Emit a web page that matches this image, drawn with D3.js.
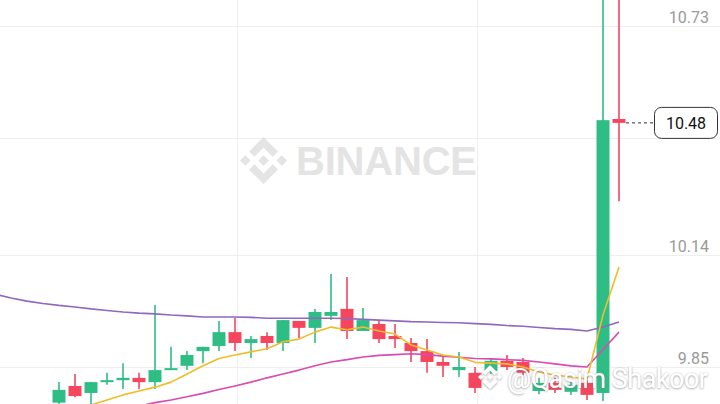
<!DOCTYPE html>
<html>
<head>
<meta charset="utf-8">
<script src="https://cdn.jsdelivr.net/npm/d3@7"></script>
<style>
html,body{margin:0;padding:0;background:#fff;}
svg{display:block;}
</style>
</head>
<body>
<svg id="chart" width="720" height="404"></svg>
<script>
// ---- data ----
const categories = ["1","2","3","4","5","6","7","8","9","10","11","12","13","14","15","16","17","18","19","20",
  "21","22","23","24","25","26","27","28","29","30","31","32","33","34","35","36","37","38","39","40"];
const openVals = [null,null,null,null,
  9.758,9.801,9.783,9.811,9.816,9.822,9.811,9.842,9.853,9.891,
  9.904,9.940,9.912,9.930,9.912,9.969,9.951,9.982,10.000,9.943,
  9.961,9.930,9.912,9.891,9.863,9.842,9.835,9.840,9.866,9.863,
  9.788,9.809,9.786,9.809,9.783,10.490];
const highVals = [null,null,null,null,
  9.811,9.832,9.811,9.835,9.860,9.835,10.010,9.902,9.891,9.902,
  9.969,9.977,9.930,9.940,9.971,9.969,10.000,10.090,10.082,10.002,
  9.969,9.961,9.925,9.922,9.878,9.889,9.850,9.873,9.881,9.873,
  9.822,9.822,9.816,9.816,10.850,10.850];
const lowVals = [null,null,null,null,
  9.740,9.772,9.740,9.804,9.793,9.793,9.793,9.842,9.842,9.860,
  9.891,9.891,9.873,9.894,9.891,9.925,9.912,9.971,9.922,9.943,
  9.912,9.899,9.863,9.835,9.824,9.824,9.783,9.832,9.842,9.822,
  9.780,9.783,9.778,9.765,9.762,10.278];
const closeVals = [null,null,null,null,
  9.791,9.775,9.811,9.816,9.822,9.811,9.842,9.847,9.881,9.902,
  9.940,9.912,9.922,9.912,9.971,9.951,9.992,9.992,9.943,9.971,
  9.922,9.922,9.891,9.863,9.853,9.850,9.796,9.866,9.850,9.835,
  9.809,9.791,9.804,9.778,10.487,10.480];
const ma7 = [null,null,null,null,null,null,
  9.752,9.765,9.778,9.788,9.798,9.811,9.832,9.853,9.872,9.881,
  9.889,9.897,9.915,9.922,9.940,9.953,9.946,9.953,9.943,9.935,
  9.907,9.894,9.881,9.876,9.862,9.860,9.858,9.850,9.837,9.829,
  9.824,9.819,9.984,10.108];
const ma25 = [null,null,null,null,null,null,null,null,
  9.739,9.749,9.758,9.765,9.773,9.782,9.792,9.801,9.811,9.822,
  9.832,9.842,9.853,9.863,9.869,9.876,9.880,9.882,9.884,9.882,
  9.878,9.875,9.872,9.871,9.869,9.867,9.863,9.858,9.853,9.850,
  9.895,9.940];
const ma99 = [10.038,10.028,10.020,10.014,10.009,10.005,10.000,9.996,9.992,9.989,
  9.987,9.984,9.982,9.979,9.979,9.979,9.978,9.976,9.976,9.976,
  9.976,9.976,9.975,9.973,9.971,9.969,9.967,9.966,9.965,9.964,
  9.962,9.960,9.957,9.955,9.952,9.949,9.947,9.943,9.953,9.966];
const yTicks = [9.85, 10.14, 10.44, 10.73];
const yTickLabels = ["9.85","10.14","10.44","10.73"];
const timeGridCats = ["16","31"];
const lastPrice = 10.48;
const lastPriceLabel = "10.48";

// ---- layout ----
const W = 720, H = 404;
const svg = d3.select("#chart");
const x = d3.scaleBand().domain(categories).range([-13, 627]).paddingInner(0.19).paddingOuter(0.095);
const y = d3.scaleLinear().domain([9.85, 10.73]).range([367, 26]);
const cx = c => x(c) + x.bandwidth() / 2;

const UP = "#2ebd85", DOWN = "#f6465d";

const defs = svg.append("defs");
defs.append("clipPath").attr("id","plot").append("rect").attr("x",0).attr("y",0).attr("width",W).attr("height",H);
const f = defs.append("filter").attr("id","wm").attr("x","-10%").attr("y","-30%").attr("width","120%").attr("height","160%");
f.append("feDropShadow").attr("dx",0).attr("dy",0.6).attr("stdDeviation",0.9).attr("flood-color","#6f6f6f").attr("flood-opacity",0.75);

// gridlines
svg.append("g").selectAll("line").data(yTicks).join("line")
  .attr("x1",0).attr("x2",W).attr("y1",d=>Math.round(y(d))+0.5).attr("y2",d=>Math.round(y(d))+0.5)
  .attr("stroke","#eeeeee").attr("stroke-width",1);
svg.append("g").selectAll("line").data(timeGridCats).join("line")
  .attr("x1",d=>Math.round(cx(d))+2.5).attr("x2",d=>Math.round(cx(d))+2.5).attr("y1",0).attr("y2",H)
  .attr("stroke","#eeeeee").attr("stroke-width",1);

// BINANCE watermark
const logoPaths = [
  "M38.73 53.2 L63.3 28.63 L87.89 53.22 L102.19 38.92 L63.3 0 L24.42 38.9 Z",
  "M0 63.31 L14.3 49.01 L28.6 63.31 L14.3 77.61 Z",
  "M38.73 73.41 L63.3 97.99 L87.88 73.39 L102.19 87.69 L63.3 126.61 L24.42 87.72 Z",
  "M97.99 63.31 L112.29 49 L126.59 63.3 L112.29 77.6 Z",
  "M77.81 63.3 L63.3 48.78 L48.79 63.28 L63.3 77.8 Z"
];
const bw = svg.append("g").attr("transform","translate(240,137) scale(0.372)");
bw.selectAll("path").data(logoPaths).join("path").attr("d",d=>d).attr("fill","#e4e4e4");
svg.append("text").attr("x",296).attr("y",175).text("BINANCE")
  .attr("font-family","Liberation Sans, Arial, sans-serif").attr("font-weight","bold")
  .attr("font-size",40).attr("fill","#e4e4e4").attr("textLength",181);

// candles
const candles = categories.map((c,i)=>({c, o:openVals[i], h:highVals[i], l:lowVals[i], cl:closeVals[i]})).filter(d=>d.o!==null);
const cg = svg.append("g").attr("clip-path","url(#plot)");
cg.selectAll("line.wick").data(candles).join("line").attr("class","wick")
  .attr("x1",d=>cx(d.c)).attr("x2",d=>cx(d.c)).attr("y1",d=>y(d.h)).attr("y2",d=>y(d.l))
  .attr("stroke",d=>d.cl>=d.o?UP:DOWN).attr("stroke-width",1.6);
cg.selectAll("rect.body").data(candles).join("rect").attr("class","body")
  .attr("x",d=>x(d.c)).attr("width",x.bandwidth())
  .attr("y",d=>y(Math.max(d.o,d.cl)))
  .attr("height",d=>Math.max(2, Math.abs(y(d.o)-y(d.cl))))
  .attr("fill",d=>d.cl>=d.o?UP:DOWN);

// MA lines
function maLine(arr, color){
  const pts = categories.map((c,i)=>({c, v:arr[i]}));
  const line = d3.line().defined(d=>d.v!==null).x(d=>cx(d.c)).y(d=>y(d.v));
  cg.append("path").datum(pts).attr("d",line).attr("fill","none").attr("stroke",color).attr("stroke-width",1.6).attr("stroke-linejoin","round");
}
maLine(ma99, "#9068bd");
maLine(ma25, "#d84bb0");
maLine(ma7, "#efbd2c");

// bottom watermark
const wg = svg.append("g").attr("filter","url(#wm)");
const sg = wg.append("g").attr("transform","translate(478,365) scale(0.19)");
sg.selectAll("path").data(logoPaths).join("path").attr("d",d=>d).attr("fill","#ffffff");
wg.append("text").attr("x",507).attr("y",388).text("@Qasim Shakoor")
  .attr("font-family","Roboto, sans-serif").attr("font-size",27).attr("fill","#ffffff").attr("textLength",201);

// right axis labels
svg.append("g").selectAll("text").data(yTicks).join("text")
  .attr("x",709).attr("y",d=>y(d)-3).attr("text-anchor","end")
  .attr("font-family","Roboto, sans-serif").attr("font-size",16).attr("fill","#9a9a9a")
  .text((d,i)=>yTickLabels[i]);

// last price marker
const lastC = candles[candles.length-1];
const py = y(lastPrice);
svg.append("line").attr("x1",cx(lastC.c)+7).attr("x2",654).attr("y1",py).attr("y2",py)
  .attr("stroke","#333").attr("stroke-width",1).attr("stroke-dasharray","3,3");
svg.append("rect").attr("x",654.5).attr("y",py-15.5).attr("width",63).attr("height",31).attr("rx",7)
  .attr("fill","#fff").attr("stroke","#333").attr("stroke-width",1);
svg.append("text").attr("x",686).attr("y",py+6).attr("text-anchor","middle")
  .attr("font-family","Roboto, sans-serif").attr("font-size",16).attr("fill","#111").text(lastPriceLabel);
</script>
</body>
</html>
